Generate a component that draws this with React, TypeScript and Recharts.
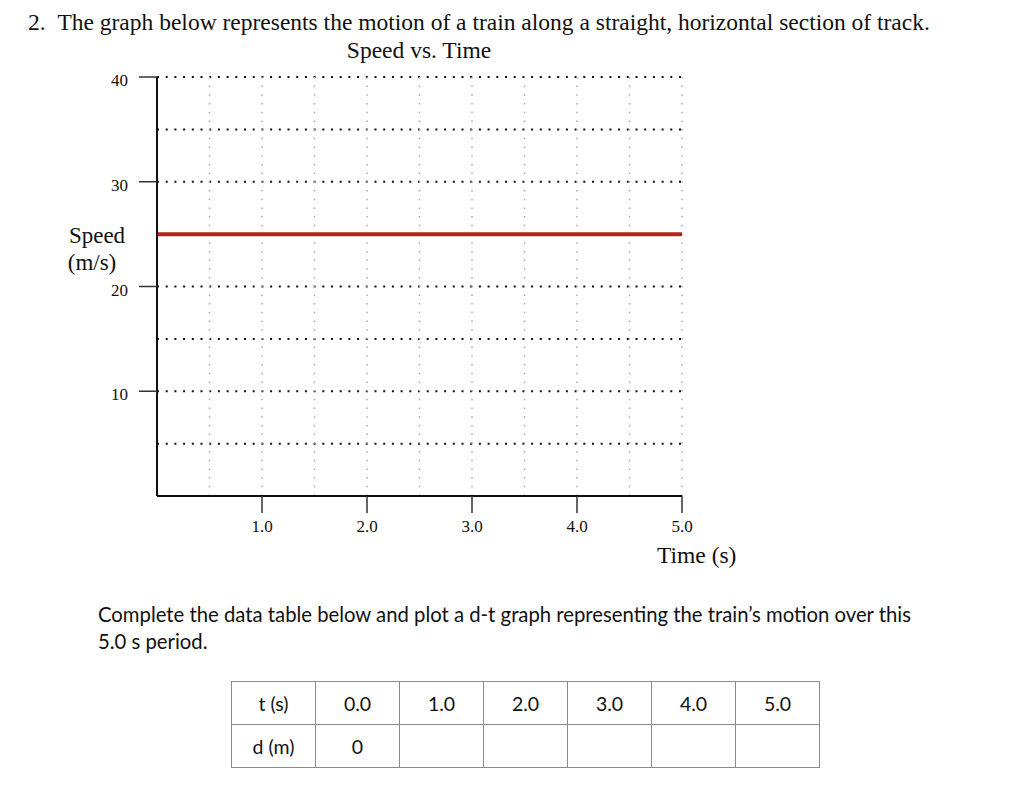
import { LineChart, Line, XAxis, YAxis, ReferenceLine } from 'recharts';

// speed vs time data (constant speed)
const times = [0, 1, 2, 3, 4, 5];
const speeds = [25, 25, 25, 25, 25, 25];

const xTicks = [1, 2, 3, 4, 5];
const yTicks = [10, 20, 30, 40];
const hGrid = [5, 10, 15, 20, 30, 35, 40];
const vGrid = [0.5, 1, 1.5, 2, 2.5, 3, 3.5, 4, 4.5, 5];

const tableTimes = ['0.0', '1.0', '2.0', '3.0', '4.0', '5.0'];
const tableDist = ['0', '', '', '', '', ''];

const data = times.map((t, i) => ({ t, v: speeds[i] }));

const serif = '"Liberation Serif", "Times New Roman", serif';
const sans = 'Lato, "Noto Sans", sans-serif';

function SpeedLabel(props: any) {
  const vb = props.viewBox || {};
  const cy = vb.y + vb.height / 2;
  return (
    <text textAnchor="middle" fontFamily={serif} fontSize={23} fill="#111">
      <tspan x={97} y={cy - 44}>Speed</tspan>
      <tspan x={92} y={cy - 17}>(m/s)</tspan>
    </text>
  );
}

export default function App() {
  const cell: React.CSSProperties = {
    border: '1px solid #8a8a8a',
    width: 83,
    height: 42,
    textAlign: 'center',
    padding: 0,
    fontFamily: sans,
    fontSize: 19.5,
    color: '#111',
  };
  return (
    <div style={{ position: 'absolute', left: 0, top: 0, width: 1024, height: 792, background: '#fff' }}>
      <div style={{ position: 'absolute', left: 28, top: 9, fontFamily: serif, fontSize: 23.5, color: '#111', whiteSpace: 'nowrap' }}>
        2.&nbsp;&nbsp;The graph below represents the motion of a train along a straight, horizontal section of track.
      </div>
      <div style={{ position: 'absolute', left: 0, width: 838, top: 37, textAlign: 'center', fontFamily: serif, fontSize: 23.5, color: '#111' }}>
        Speed vs. Time
      </div>
      <div style={{ position: 'absolute', left: 0, top: 0 }}>
        <LineChart width={1024} height={792} data={data} margin={{ top: 77, right: 342, left: 97, bottom: 266 }}>
          {hGrid.map((g) => (
            <ReferenceLine key={'h' + g} y={g} stroke="#111" strokeWidth={2} strokeDasharray="2 6.7" />
          ))}
          {vGrid.map((g) => (
            <ReferenceLine key={'v' + g} x={g} stroke="#aaa" strokeWidth={1.5} strokeDasharray="1.5 7.2" />
          ))}
          <XAxis
            dataKey="t"
            type="number"
            domain={[0, 5]}
            ticks={xTicks}
            tickFormatter={(v: number) => v.toFixed(1)}
            height={30}
            tickSize={17}
            tickMargin={7}
            axisLine={{ stroke: '#111', strokeWidth: 2 }}
            tickLine={{ stroke: '#333', strokeWidth: 1.5 }}
            tick={{ fill: '#111', fontFamily: serif, fontSize: 17 }}
          />
          <YAxis
            type="number"
            domain={[0, 40]}
            ticks={yTicks}
            width={60}
            tickSize={18}
            tickMargin={11}
            axisLine={{ stroke: '#111', strokeWidth: 2 }}
            tickLine={{ stroke: '#333', strokeWidth: 1.5 }}
            tick={{ fill: '#111', fontFamily: serif, fontSize: 17, dy: 3 }}
            label={<SpeedLabel />}
          />
          <Line
            dataKey="v"
            stroke="#b5231d"
            strokeWidth={4}
            dot={false}
            isAnimationActive={false}
          />
        </LineChart>
      </div>
      <div style={{ position: 'absolute', left: 657, top: 542, fontFamily: serif, fontSize: 23.5, color: '#111' }}>Time (s)</div>
      <div style={{ position: 'absolute', left: 98, top: 601, width: 840, fontFamily: sans, fontSize: 20.3, lineHeight: '27px', color: '#111' }}>
        Complete the data table below and plot a d-t graph representing the train’s motion over this 5.0 s period.
      </div>
      <table style={{ position: 'absolute', left: 231, top: 681, borderCollapse: 'collapse' }}>
        <tbody>
          <tr>
            <td style={cell}>t (s)</td>
            {tableTimes.map((t) => (
              <td key={'t' + t} style={cell}>{t}</td>
            ))}
          </tr>
          <tr>
            <td style={cell}>d (m)</td>
            {tableDist.map((d, i) => (
              <td key={'d' + i} style={cell}>{d}</td>
            ))}
          </tr>
        </tbody>
      </table>
    </div>
  );
}
